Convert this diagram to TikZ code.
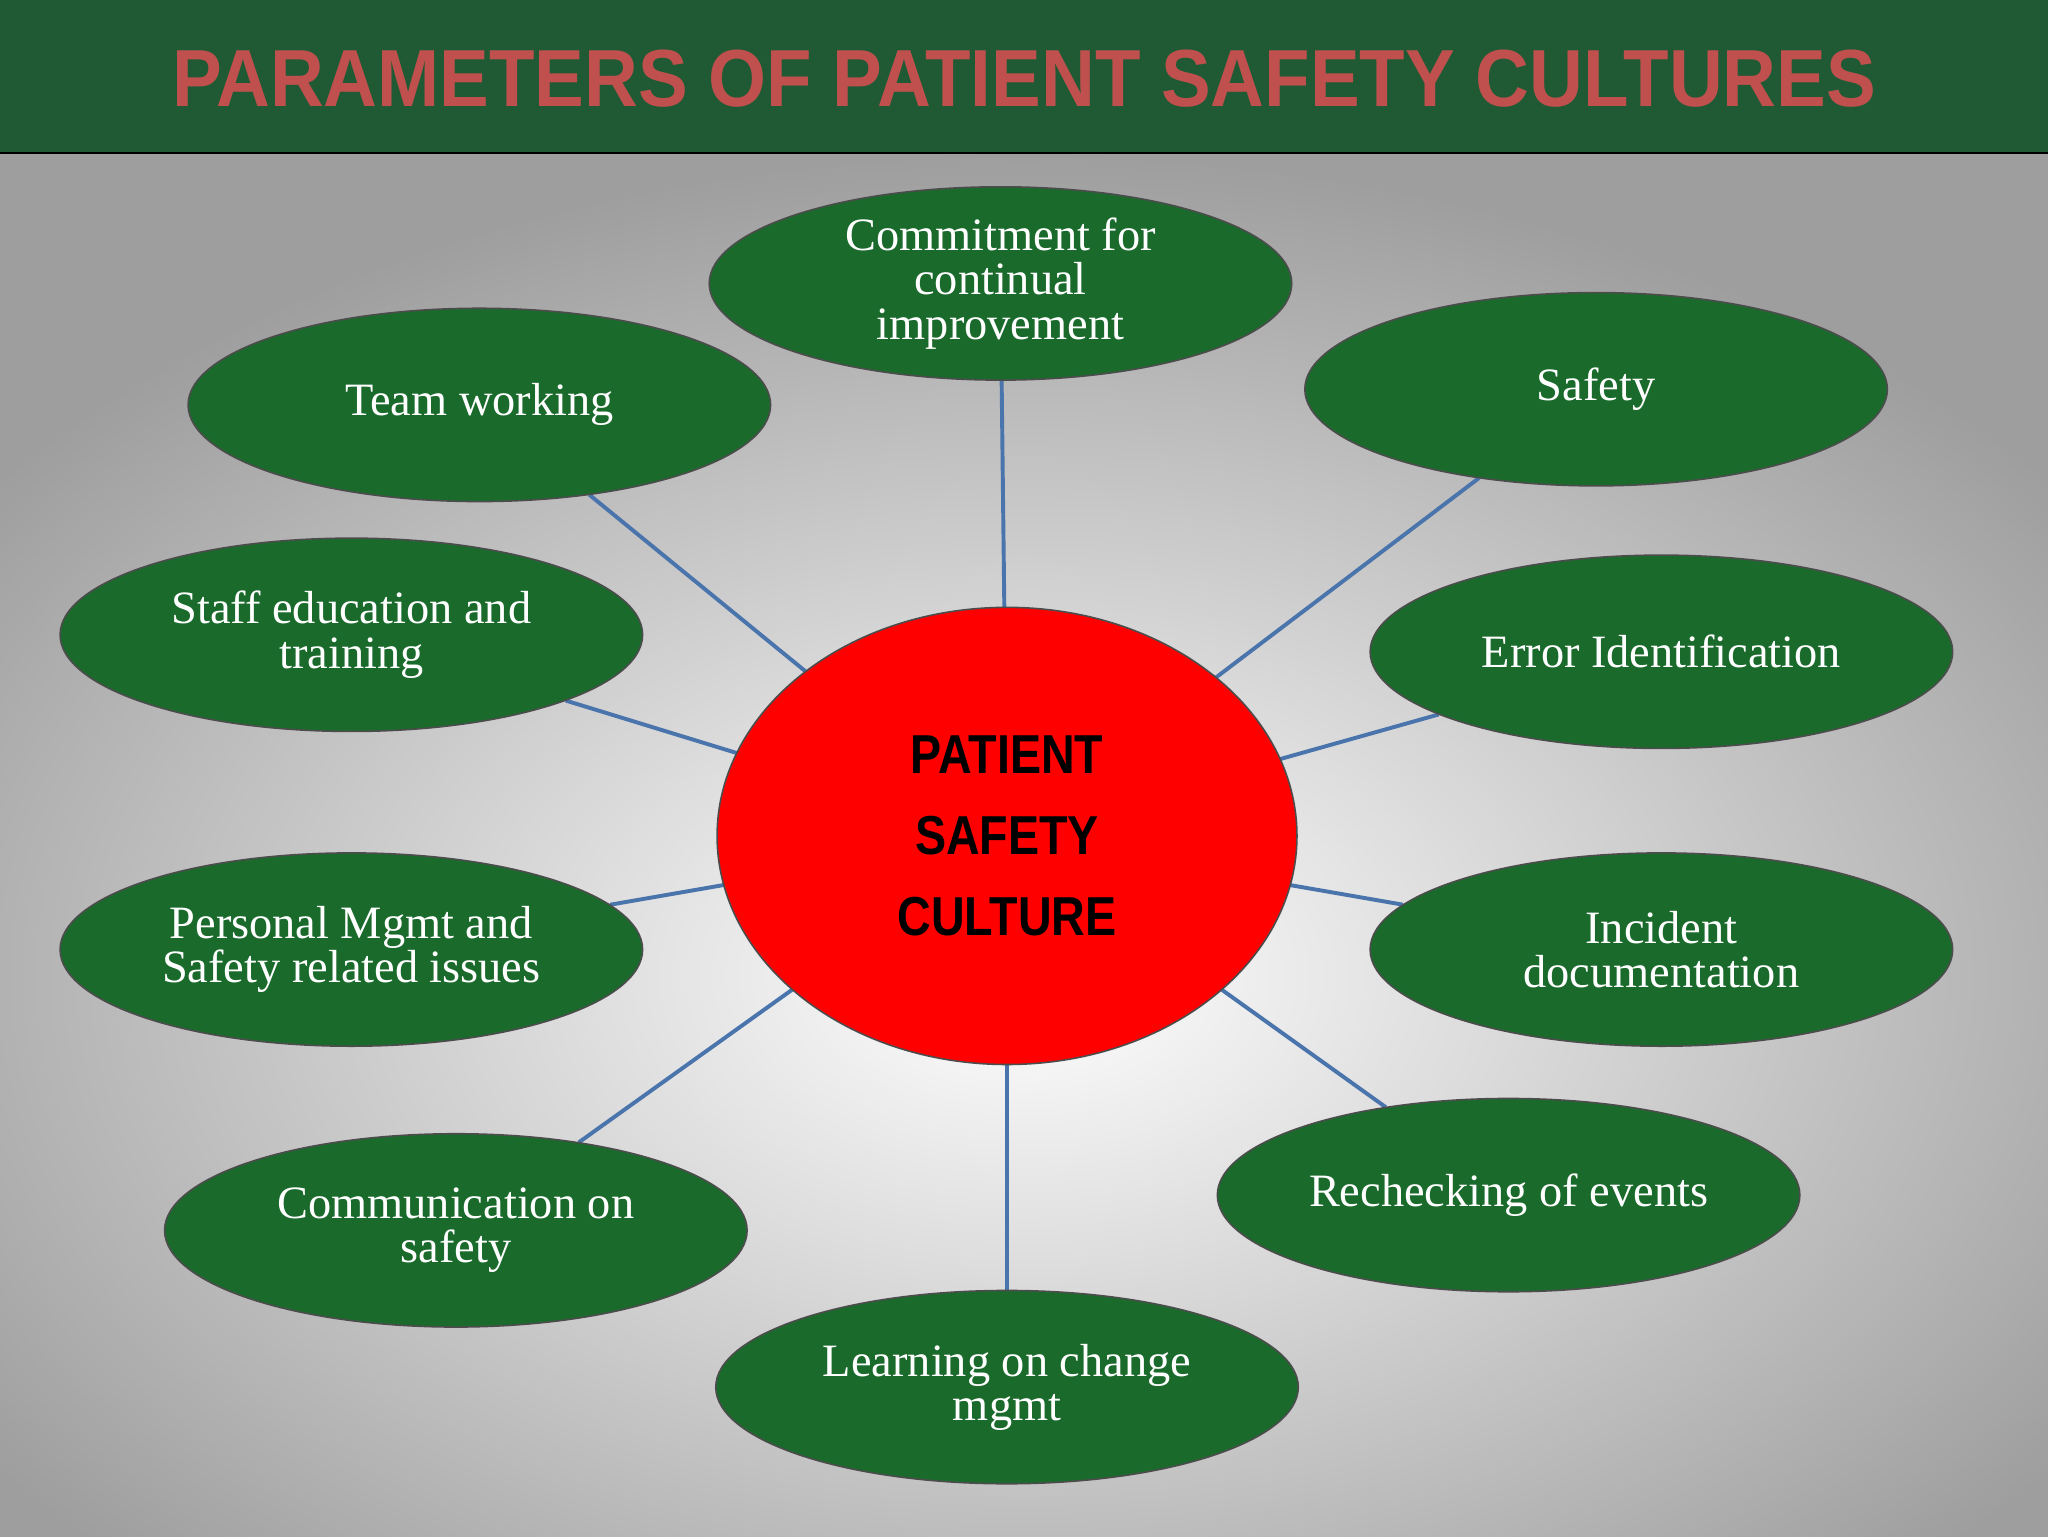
\documentclass[tikz,border=0pt]{standalone}
\usepackage{fontspec}
\setmainfont{Liberation Serif}
\setsansfont{Liberation Sans}
\usetikzlibrary{shapes.geometric,shadings}
\definecolor{bandg}{HTML}{1F5A34}
\definecolor{ovalg}{HTML}{1A6A2C}
\definecolor{titler}{HTML}{C0504D}
\definecolor{linkb}{HTML}{4A74AC}
\tikzset{
 oval/.style={ellipse,draw=black!70,line width=1.2pt,fill=ovalg,minimum width=446pt,minimum height=148pt,text=white,font=\fontsize{35.5}{34}\selectfont,align=center,inner sep=0pt},
 link/.style={draw=linkb,line width=3pt}
}
\begin{document}
\begin{tikzpicture}[x=1pt,y=-1pt]
\useasboundingbox (0,0) rectangle (1568,1176);
\shade[inner color=white,outer color=black!38] (-200,118) rectangle (1768,1376);
\fill[bandg] (0,0) rectangle (1568,118);
\draw[black,line width=1.5pt] (0,117) -- (1568,117);
\node[text=titler,font=\sffamily\bfseries\fontsize{62}{62}\selectfont,xscale=0.92] (title) at (784,60) {PARAMETERS OF PATIENT SAFETY CULTURES};
\node[ellipse,minimum width=444pt,minimum height=350pt,inner sep=0pt] (c) at (771,640) {};
\node[ellipse,minimum width=446pt,minimum height=148pt] (team) at (367,310) {};
\node[ellipse,minimum width=446pt,minimum height=148pt] (commit) at (766,217) {};
\node[ellipse,minimum width=446pt,minimum height=148pt] (safety) at (1222,298) {};
\node[ellipse,minimum width=446pt,minimum height=148pt] (staff) at (269,486) {};
\node[ellipse,minimum width=446pt,minimum height=148pt] (error) at (1272,499) {};
\node[ellipse,minimum width=446pt,minimum height=148pt] (pers) at (269,727) {};
\node[ellipse,minimum width=446pt,minimum height=148pt] (inc) at (1272,727) {};
\node[ellipse,minimum width=446pt,minimum height=148pt] (comm) at (349,942) {};
\node[ellipse,minimum width=446pt,minimum height=148pt] (rech) at (1155,915) {};
\node[ellipse,minimum width=446pt,minimum height=148pt] (learn) at (771,1062) {};
\foreach \n in {team,commit,safety,staff,error,pers,inc,comm,rech,learn}{
  \path[link] (c) -- (\n);
}
\node[oval] at (team) {Team working};
\node[oval] at (commit) {Commitment for\\continual\\improvement};
\node[oval] at (safety) {Safety};
\node[oval] at (staff) {Staff education and\\training};
\node[oval] at (error) {Error Identification};
\node[oval] at (pers) {Personal Mgmt and\\Safety related issues};
\node[oval] at (inc) {Incident\\documentation};
\node[oval] at (comm) {Communication on\\safety};
\node[oval] at (rech) {Rechecking of events};
\node[oval] at (learn) {Learning on change\\mgmt};
\node[ellipse,draw=black!70,line width=1.2pt,fill=red,minimum width=444pt,minimum height=350pt,inner sep=0pt] at (c) {};
\node[font=\sffamily\bfseries\fontsize{42}{62}\selectfont,align=center,xscale=0.85] (ct) at (771,640) {PATIENT\\SAFETY\\CULTURE};
\end{tikzpicture}
\end{document}
